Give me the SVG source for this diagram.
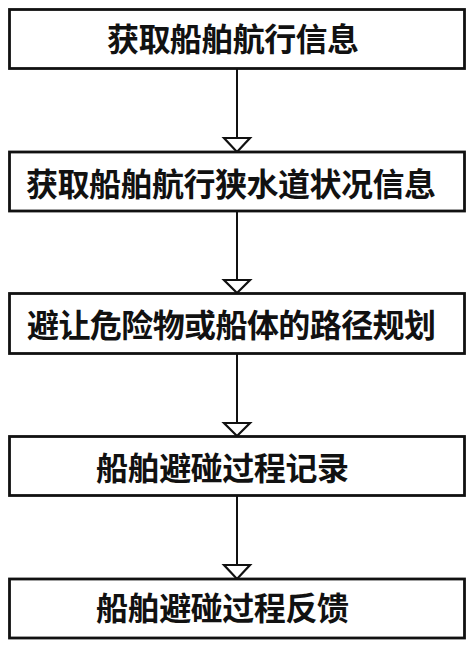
<svg xmlns="http://www.w3.org/2000/svg" width="474" height="647" viewBox="0 0 474 647">
<style>
.box{fill:#fff;stroke:#111;stroke-width:2.8}
.t{font-family:"Noto Sans CJK SC","Noto Sans CJK JP",sans-serif;font-size:32px;font-weight:bold;fill:#111}
.c{stroke:#111;stroke-width:2;fill:none}
.h{fill:#fff;stroke:#111;stroke-width:2.2}
</style>
<rect width="474" height="647" fill="#fff"/>
<g id="connectors">
<line class="c" x1="237" y1="68" x2="237" y2="138"/>
<polygon class="h" points="224,138 250,138 237,152"/>
<line class="c" x1="237" y1="211" x2="237" y2="280"/>
<polygon class="h" points="224,280 250,280 237,293"/>
<line class="c" x1="237" y1="354" x2="237" y2="423"/>
<polygon class="h" points="224,423 250,423 237,436"/>
<line class="c" x1="237" y1="496" x2="237" y2="565"/>
<polygon class="h" points="224,565 250,565 237,579"/>
</g>
<g id="n1">
<rect class="box" x="9.5" y="9.5" width="455" height="59"/>
<text class="t" x="107" y="50.5" textLength="252" lengthAdjust="spacing">获取船舶航行信息</text>
</g>
<g id="n2">
<rect class="box" x="9.5" y="152" width="455" height="59"/>
<text class="t" x="26" y="195.5" textLength="410" lengthAdjust="spacing">获取船舶航行狭水道状况信息</text>
</g>
<g id="n3">
<rect class="box" x="9.5" y="293.5" width="455" height="60"/>
<text class="t" x="27" y="336.5" textLength="409" lengthAdjust="spacing">避让危险物或船体的路径规划</text>
</g>
<g id="n4">
<rect class="box" x="9.5" y="436.5" width="455" height="59"/>
<text class="t" x="96" y="480" textLength="253" lengthAdjust="spacing">船舶避碰过程记录</text>
</g>
<g id="n5">
<rect class="box" x="9.5" y="579" width="455" height="59"/>
<text class="t" x="96" y="620" textLength="253" lengthAdjust="spacing">船舶避碰过程反馈</text>
</g>
</svg>
